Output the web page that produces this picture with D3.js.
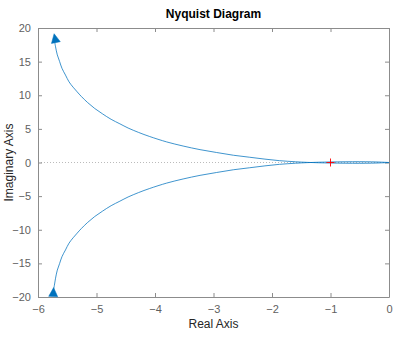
<!DOCTYPE html>
<html>
<head>
<meta charset="utf-8">
<script src="https://cdn.jsdelivr.net/npm/d3@7"></script>
<style>
  html, body { margin: 0; padding: 0; background: #fff; }
  svg { display: block; font-family: "Liberation Sans", Arial, Helvetica, sans-serif; }
</style>
</head>
<body>
<svg id="chart" width="414" height="340"></svg>
<script>
// ---- data ----
const xTicks = [-6, -5, -4, -3, -2, -1, 0];
const yTicks = [-20, -15, -10, -5, 0, 5, 10, 15, 20];
const xDomain = [-6, 0];
const yDomain = [-20, 20];

// upper branch (from arrow end toward origin): [real, imag]
const upperBranch = [
  [-5.72, 18.25], [-5.70, 17.2], [-5.67, 16.0], [-5.63, 15.0], [-5.59, 14.0],
  [-5.53, 13.0], [-5.47, 12.0], [-5.40, 11.2], [-5.33, 10.5], [-5.26, 9.83],
  [-5.15, 8.9], [-5.03, 8.03], [-4.90, 7.25], [-4.75, 6.42], [-4.60, 5.75],
  [-4.46, 5.13], [-4.28, 4.47], [-4.09, 3.86], [-3.80, 3.06], [-3.52, 2.45],
  [-3.23, 1.91], [-2.95, 1.49], [-2.66, 1.08], [-2.38, 0.78], [-2.12, 0.5],
  [-1.87, 0.27], [-1.6, 0.11], [-1.4, 0.02], [-1.2, -0.04], [-1.0, -0.08],
  [-0.75, -0.11], [-0.5, -0.12], [-0.3, -0.1], [-0.15, -0.06], [0, 0]
];
// lower branch (from arrow end toward origin)
const lowerBranch = [
  [-5.74, -19.2], [-5.72, -18.25], [-5.70, -17.2], [-5.67, -16.0], [-5.63, -15.0],
  [-5.59, -14.0], [-5.53, -13.0], [-5.47, -12.0], [-5.40, -11.2], [-5.33, -10.5],
  [-5.26, -9.83], [-5.15, -8.9], [-5.03, -8.03], [-4.90, -7.25], [-4.75, -6.42],
  [-4.60, -5.75], [-4.46, -5.13], [-4.28, -4.47], [-4.09, -3.86], [-3.80, -3.06],
  [-3.52, -2.45], [-3.23, -1.91], [-2.95, -1.49], [-2.66, -1.08], [-2.38, -0.78],
  [-2.12, -0.5], [-1.87, -0.27], [-1.6, -0.11], [-1.4, -0.02], [-1.2, 0.04],
  [-1.0, 0.08], [-0.75, 0.11], [-0.5, 0.12], [-0.3, 0.1], [-0.15, 0.06], [0, 0]
];
const criticalPoint = [[-1, 0]];

const titleText = "Nyquist Diagram";
const xLabelText = "Real Axis";
const yLabelText = "Imaginary Axis";

// ---- layout ----
const W = 414, H = 340;
const margin = { top: 28, right: 25, bottom: 43, left: 38 };
const iw = W - margin.left - margin.right;
const ih = H - margin.top - margin.bottom;

const svg = d3.select("#chart");
const g = svg.append("g").attr("transform", `translate(${margin.left},${margin.top})`);

const x = d3.scaleLinear().domain(xDomain).range([0, iw]);
const y = d3.scaleLinear().domain(yDomain).range([ih, 0]);

const boxColor = "#8c8c8c";
const tickColor = "#5f5f5f";
const lineColor = "#0072BD";

// zero dotted line
g.append("line")
  .attr("x1", x(xDomain[0])).attr("x2", x(xDomain[1]))
  .attr("y1", y(0)).attr("y2", y(0))
  .attr("stroke", "#aaaaaa").attr("stroke-width", 0.8)
  .attr("stroke-dasharray", "1,2");

// axes
const tickLen = 4;
const xAxisB = g.append("g").attr("transform", `translate(0,${ih})`)
  .call(d3.axisBottom(x).tickValues(xTicks).tickFormat(d3.format("d")).tickSizeInner(-tickLen).tickSizeOuter(0).tickPadding(8));
const xAxisT = g.append("g")
  .call(d3.axisTop(x).tickValues(xTicks).tickFormat("").tickSizeInner(-tickLen).tickSizeOuter(0));
const yAxisL = g.append("g")
  .call(d3.axisLeft(y).tickValues(yTicks).tickFormat(d3.format("d")).tickSizeInner(-tickLen).tickSizeOuter(0).tickPadding(7));
const yAxisR = g.append("g").attr("transform", `translate(${iw},0)`)
  .call(d3.axisRight(y).tickValues(yTicks).tickFormat("").tickSizeInner(-tickLen).tickSizeOuter(0));

[xAxisB, xAxisT, yAxisL, yAxisR].forEach(a => {
  a.select(".domain").attr("stroke", boxColor).attr("stroke-width", 1);
  a.selectAll(".tick line").attr("stroke", boxColor).attr("stroke-width", 1);
  a.selectAll(".tick text").attr("fill", tickColor)
    .style("font-size", "11px")
    .style("font-family", "'Liberation Sans', Arial, Helvetica, sans-serif");
});

// curves
const line = d3.line().x(d => x(d[0])).y(d => y(d[1])).curve(d3.curveCatmullRom.alpha(0.5));
const clipId = "plotclip";
svg.append("defs").append("clipPath").attr("id", clipId)
  .append("rect").attr("x", 0).attr("y", 0).attr("width", iw).attr("height", ih);
const curves = g.append("g").attr("clip-path", `url(#${clipId})`);
[upperBranch, lowerBranch].forEach(br => {
  curves.append("path").datum(br).attr("d", line)
    .attr("fill", "none").attr("stroke", lineColor).attr("stroke-width", 0.75);
});

// arrowheads
function arrow(tip, from, len, half) {
  const px = x(tip[0]), py = y(tip[1]);
  const fx = x(from[0]), fy = y(from[1]);
  let dx = px - fx, dy = py - fy;
  const n = Math.hypot(dx, dy); dx /= n; dy /= n;
  const bx = px - dx * len, by = py - dy * len;
  const nx = -dy, ny = dx;
  return `M${px},${py}L${bx + nx * half},${by + ny * half}L${bx - nx * half},${by - ny * half}Z`;
}
// upper arrow points outward along the branch end
const ua = upperBranch[0], ub = upperBranch[3];
g.append("path")
  .attr("d", arrow([ua[0] + (ua[0]-ub[0])*0.05, ua[1] + 0.9], ub, 9, 4.5))
  .attr("fill", lineColor).attr("stroke", lineColor).attr("stroke-width", 0.5);
// lower arrow points back along the branch (toward origin)
const la = lowerBranch[0], lb = lowerBranch[3];
const lowerTip = [la[0] + (lb[0]-la[0])*0.1, la[1] + 0.6];
const lowerBase = [la[0], la[1] - 0.7];
g.append("path")
  .attr("d", arrow(lowerTip, lowerBase, 9, 4.5))
  .attr("fill", lineColor).attr("stroke", lineColor).attr("stroke-width", 0.5);

// critical point marker
const m = g.selectAll(".crit").data(criticalPoint).enter().append("g")
  .attr("transform", d => `translate(${x(d[0])},${y(d[1])})`);
m.append("line").attr("x1", -4).attr("x2", 4).attr("y1", 0).attr("y2", 0)
  .attr("stroke", "#ff0000").attr("stroke-width", 0.9);
m.append("line").attr("x1", 0).attr("x2", 0).attr("y1", -4).attr("y2", 4)
  .attr("stroke", "#ff0000").attr("stroke-width", 0.9);

// title and labels
svg.append("text").attr("x", margin.left + iw / 2).attr("y", 18)
  .attr("text-anchor", "middle").attr("font-weight", "bold")
  .attr("font-size", "12px").attr("fill", "#000").text(titleText);
svg.append("text").attr("x", margin.left + iw / 2).attr("y", 328)
  .attr("text-anchor", "middle").attr("font-size", "12px").attr("fill", "#262626").text(xLabelText);
svg.append("text")
  .attr("transform", `translate(13,${margin.top + ih / 2}) rotate(-90)`)
  .attr("text-anchor", "middle").attr("font-size", "12px").attr("fill", "#262626").text(yLabelText);
</script>
</body>
</html>
